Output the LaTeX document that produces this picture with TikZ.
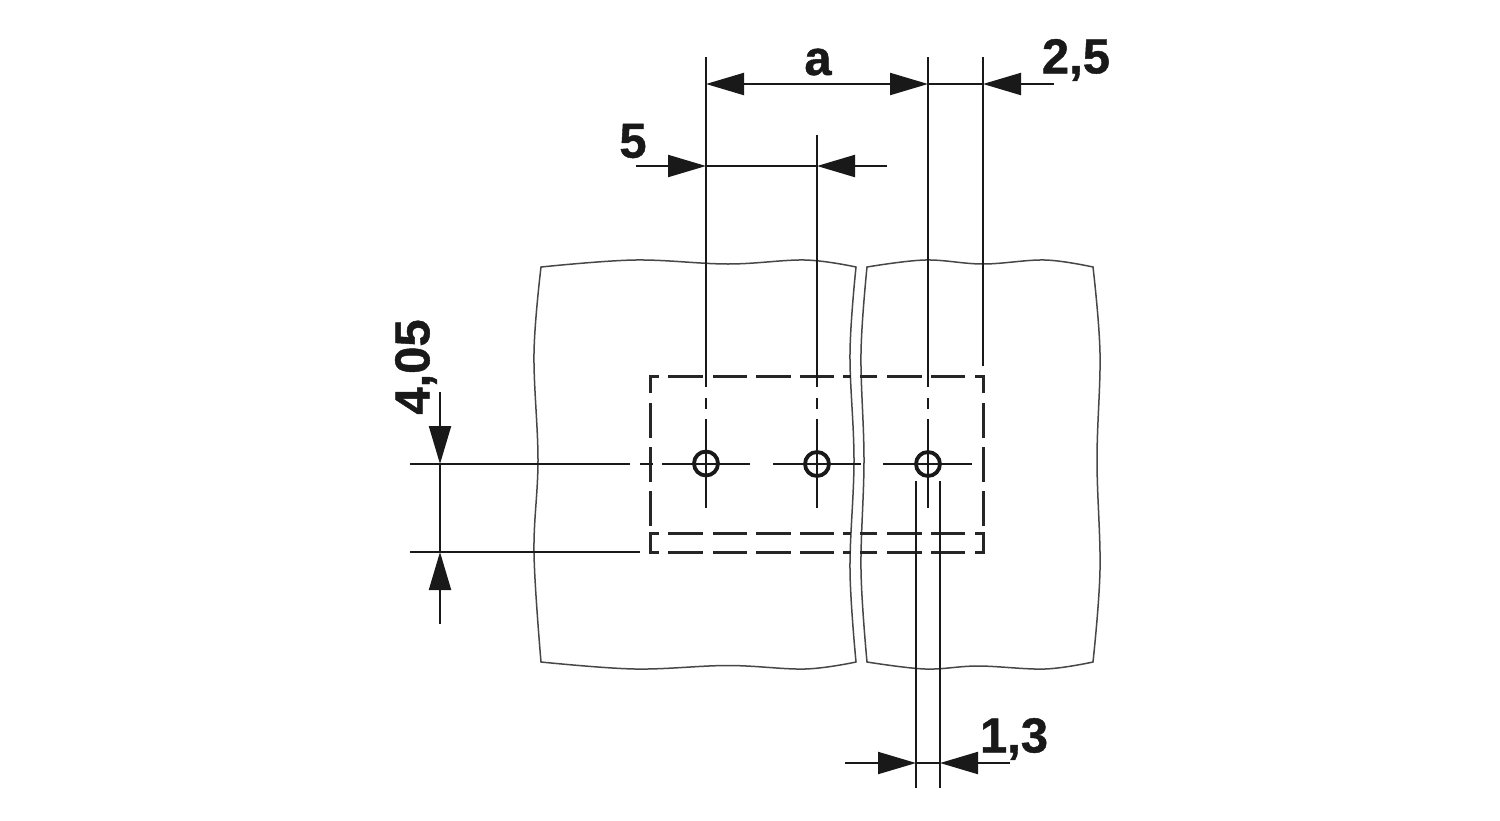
\documentclass[tikz,border=0pt]{standalone}
\usepackage{fontspec}
\setmainfont{Liberation Sans}[BoldFeatures={FakeBold=0.9}]
\usetikzlibrary{arrows.meta}
\tikzset{
  outline/.style={line width=1.5pt,draw=black!72,line cap=round},
  dimline/.style={line width=2.1pt,draw=black!90},
  hidden/.style={line width=3pt,draw=black!85},
  pin/.style={line width=3.8pt,draw=black!90},
  tipA/.tip={Triangle[length=38pt,width=22pt]},
  label/.style={font=\bfseries\fontsize{49}{49}\selectfont,text=black!90,inner sep=0pt},
}
\begin{document}
\begin{tikzpicture}[x=1pt,y=-1pt]
\useasboundingbox (0,0) rectangle (1500,820);
\fill[white] (0,0) rectangle (1500,820);
% left block
\draw[outline] plot[smooth,tension=0.6] coordinates {(541,267) (635,260) (728,264) (805,260) (856,267)};
\draw[outline] plot[smooth,tension=0.6] coordinates {(541,662) (635,669) (728,665.5) (805,669) (856,662)};
\draw[outline] plot[smooth,tension=0.6] coordinates {(541,267) (534,353) (538,460) (534,553) (541,662)};
\draw[outline] plot[smooth,tension=0.6] coordinates {(856,267) (850,353) (854,460) (850,570) (856,662)};
% right block
\draw[outline] plot[smooth,tension=0.6] coordinates {(867,267) (925,260) (983,264) (1045,260) (1093,267)};
\draw[outline] plot[smooth,tension=0.6] coordinates {(867,662) (925,669) (978,666) (1045,669) (1093,662)};
\draw[outline] plot[smooth,tension=0.6] coordinates {(867,267) (861,353) (864,460) (861,570) (867,662)};
\draw[outline] plot[smooth,tension=0.6] coordinates {(1093,267) (1100,353) (1097,460) (1100,570) (1093,662)};
% hidden rectangle
\draw[hidden] (659,376) -- (650,376) -- (650,393);
\draw[hidden] (975,376) -- (983,376) -- (983,393);
\draw[hidden] (659,533) -- (650,533) -- (650,552) -- (659,552);
\draw[hidden] (975,533) -- (983,533) -- (983,552) -- (975,552);
\foreach \y in {376,533,552}{
  \foreach \a/\b in {668/703,713/747,756/791,800/834,843/851,860/877,887/922,931/965}
    \draw[hidden] (\a,\y) -- (\b,\y);
}
\foreach \x in {650,983}{
  \foreach \a/\b in {403/438,447/482,491/526}
    \draw[hidden] (\x,\a) -- (\x,\b);
}
% centre lines
\draw[dimline] (706,57) -- (706,387);
\draw[dimline] (817,135) -- (817,387);
\draw[dimline] (928,57) -- (928,387);
\draw[dimline] (983,57) -- (983,366);
\foreach \x in {706,817,928}{
  \draw[dimline] (\x,398) -- (\x,409);
  \draw[dimline] (\x,419) -- (\x,508);
}
\draw[dimline] (410,464) -- (630,464);
\draw[dimline] (640,464) -- (653,464);
\draw[dimline] (662,464) -- (750,464);
\draw[dimline] (773,464) -- (861,464);
\draw[dimline] (883,464) -- (972,464);
\draw[dimline] (410,552) -- (640,552);
\draw[dimline] (916,481) -- (916,788);
\draw[dimline] (940,481) -- (940,788);
% pins
\draw[pin] (706,463.5) circle (12);
\draw[pin] (817,464) circle (12);
\draw[pin] (928,464) circle (12);
% dimensions
\draw[dimline,{tipA}-{tipA}] (706,84) -- (928,84);
\draw[dimline,-{tipA}] (1054,84) -- (983,84);
\draw[dimline] (928,84) -- (983,84);
\draw[dimline,-{tipA}] (636,166) -- (706,166);
\draw[dimline] (706,166) -- (817,166);
\draw[dimline,-{tipA}] (887,166) -- (817,166);
\draw[dimline,-{tipA}] (845,763) -- (916,763);
\draw[dimline] (916,763) -- (940,763);
\draw[dimline,-{tipA}] (1010,763) -- (940,763);
\draw[dimline,-{tipA}] (440,392) -- (440,464);
\draw[dimline] (440,464) -- (440,552);
\draw[dimline,-{tipA}] (440,624) -- (440,552);
% labels
\node[label] (la) at (818,62) {a};
\node[label] (lb) at (1076,60) {2,5};
\node[label] (lc) at (633,141) {5};
\node[label] (ld) at (1014,739) {1,3};
\node[label,rotate=90] (le) at (416,367) {4,05};
\end{tikzpicture}
\end{document}
